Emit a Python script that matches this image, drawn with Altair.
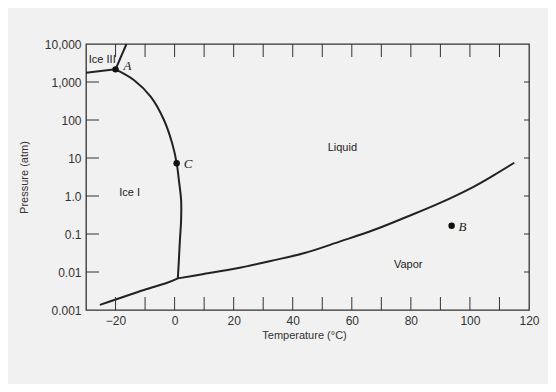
import math
import altair as alt
import pandas as pd

# ---------------- data ----------------
# Ice III / Ice I boundary
ice3_ice1_t = [-30, -20]
ice3_ice1_p = [1750, 2150]
# Ice III / Liquid boundary
ice3_liq_t = [-20, -16.3]
ice3_liq_p = [2150, 10000]
# Ice I / Liquid boundary (from A down to the triple point)
ice1_liq_t = [-20, -13.8, -8.1, -3.6, -0.8, 0.7, 1.45, 2.2, 2.2, 1.8, 1.45, 1.1]
ice1_liq_p = [2150, 1130, 410, 100, 24, 7.3, 2.6, 0.785, 0.233, 0.0695, 0.0207, 0.0068]
# Ice I / Vapor boundary
ice1_vap_t = [1.1, -2.5, -10.4, -25.3]
ice1_vap_p = [0.0068, 0.0052, 0.00336, 0.00136]
# Liquid / Vapor boundary
liq_vap_t = [1.1, 9.9, 21.2, 32.5, 43.7, 56.1, 67.4, 78.7, 89.9, 101.2, 108.0, 115.0]
liq_vap_p = [0.0068, 0.00886, 0.0125, 0.0195, 0.031, 0.064, 0.127, 0.285, 0.66, 1.75, 3.5, 7.5]

point_names = ["A", "B", "C"]
point_t = [-20, 93.8, 0.7]
point_p = [2150, 0.165, 7.3]

region_names = ["Ice III", "Ice I", "Liquid", "Vapor"]
region_t = [-24.5, -15.2, 56.8, 79.1]
region_p = [3790, 1.2, 18.3, 0.0153]

x_label_values = [-20, 0, 20, 40, 60, 80, 100, 120]
x_tick_values = [-20, -10, 0, 10, 20, 30, 40, 50, 60, 70, 80, 90, 100, 110]
y_ticks = [0.001, 0.01, 0.1, 1, 10, 100, 1000, 10000]
y_tick_labels = ["0.001", "0.01", "0.1", "1.0", "10", "100", "1,000", "10,000"]
y_inner_ticks = [0.01, 0.1, 1, 10, 100, 1000]

# ---------------- tables ----------------
rows = []
for name, ts, ps in [("ice3_ice1", ice3_ice1_t, ice3_ice1_p),
                     ("ice3_liq", ice3_liq_t, ice3_liq_p),
                     ("ice1_liq", ice1_liq_t, ice1_liq_p),
                     ("ice1_vap", ice1_vap_t, ice1_vap_p),
                     ("liq_vap", liq_vap_t, liq_vap_p)]:
    for i, (t, p) in enumerate(zip(ts, ps)):
        rows.append({"curve": name, "order": i, "t": t, "p": p})
curves = pd.DataFrame(rows)
points = pd.DataFrame({"name": point_names, "t": point_t, "p": point_p})
regions = pd.DataFrame({"name": region_names, "t": region_t, "p": region_p})
xt = pd.DataFrame({"t": x_tick_values})
yt = pd.DataFrame({"p": y_inner_ticks})

# label expression built from the tick arrays
expr = "'" + y_tick_labels[-1] + "'"
for i in range(len(y_ticks) - 2, -1, -1):
    thr = math.sqrt(y_ticks[i] * y_ticks[i + 1])
    expr = f"datum.value < {thr} ? '{y_tick_labels[i]}' : ({expr})"

W, H = 443, 266
FONT = "Liberation Sans"
INK = "#222222"
AX = "#333333"

sx = alt.Scale(domain=[-30, 120], nice=False, zero=False)
sy = alt.Scale(type="log", domain=[0.001, 10000], nice=False)

x_axis = alt.Axis(values=x_label_values, tickSize=0, domain=False, grid=False,
                  labelFont=FONT, labelFontSize=12, labelColor=AX, labelPadding=5,
                  labelFlush=False, labelOverlap=False,
                  title="Temperature (°C)", titleFont=FONT, titleFontSize=11,
                  titleFontWeight="normal", titleColor=AX, titleX=218, titleY=25,
                  titleAlign="center", titleBaseline="middle")
y_axis = alt.Axis(values=y_ticks, labelExpr=expr, tickSize=0, domain=False, grid=False,
                  labelFont=FONT, labelFontSize=12, labelColor=AX, labelPadding=5,
                  labelFlush=False, labelOverlap=False,
                  title="Pressure (atm)", titleFont=FONT, titleFontSize=11,
                  titleFontWeight="normal", titleColor=AX, titleX=-62, titleY=133,
                  titleAngle=270, titleAlign="center", titleBaseline="middle")

X = alt.X("t:Q", scale=sx, axis=x_axis)
Y = alt.Y("p:Q", scale=sy, axis=y_axis)

lines = alt.Chart(curves).mark_line(color=INK, strokeWidth=2, clip=True,
                                    interpolate="catmull-rom").encode(
    x=X, y=Y, detail="curve:N", order="order:Q")

dots = alt.Chart(points).mark_point(filled=True, color="#111111", size=42, opacity=1).encode(
    x=X, y=Y)

letter_layers = []
for nm, dx, dy in [("A", 8, -3), ("B", 7, 1), ("C", 7, 1)]:
    letter_layers.append(
        alt.Chart(points).transform_filter(alt.datum.name == nm)
        .mark_text(font="Liberation Serif", fontStyle="italic", fontSize=13,
                   color=INK, align="left", baseline="middle", dx=dx, dy=dy)
        .encode(x=X, y=Y, text="name:N"))

region_text = alt.Chart(regions).mark_text(font=FONT, fontSize=11, color=INK,
                                           align="center", baseline="middle").encode(
    x=X, y=Y, text="name:N")

tick_style = dict(color=AX, strokeWidth=1)
bottom_ticks = alt.Chart(xt).mark_rule(**tick_style).encode(
    x=X, y=alt.value(H), y2=alt.value(H - 13))
top_ticks = alt.Chart(xt).mark_rule(**tick_style).encode(
    x=X, y=alt.value(0), y2=alt.value(13))
left_ticks = alt.Chart(yt).mark_rule(**tick_style).encode(
    y=Y, x=alt.value(0), x2=alt.value(13))
right_ticks = alt.Chart(yt).mark_rule(**tick_style).encode(
    y=Y, x=alt.value(W), x2=alt.value(W - 5))

chart = alt.layer(
    lines, bottom_ticks, top_ticks, left_ticks, right_ticks,
    dots, region_text, *letter_layers
).properties(
    width=W, height=H,
    autosize=alt.AutoSizeParams(type="none"),
    padding={"left": 78, "top": 36, "right": 19, "bottom": 74},
    background="#f1f1f1",
).configure_view(stroke=AX, strokeWidth=1.3)

chart.save("out.html", embed_options={"renderer": "svg", "actions": False})
